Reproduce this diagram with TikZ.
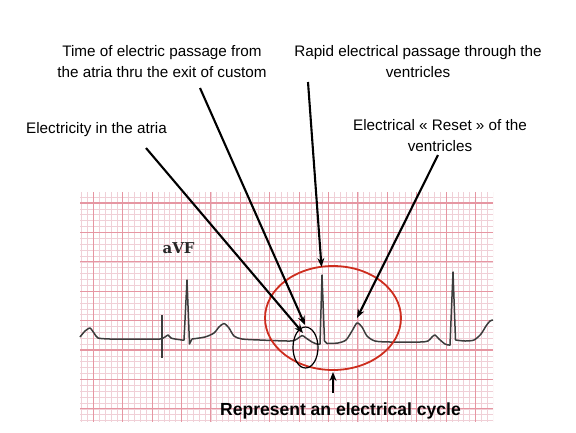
\documentclass[tikz,border=0pt]{standalone}
\usepackage{fontspec}
\setmainfont{Liberation Sans}
\newfontfamily\slabfnt{DejaVu Serif}
\usetikzlibrary{arrows.meta,shapes.geometric}
\definecolor{minorgrid}{RGB}{240,208,215}
\definecolor{majorgrid}{RGB}{230,150,162}
\definecolor{ecgtrace}{RGB}{60,60,60}
\definecolor{cyclered}{RGB}{205,45,30}
\tikzset{
  lbl/.style={font=\fontsize{15.3}{21}\selectfont, align=center, inner sep=0pt, anchor=base},
  pointer/.style={line width=2.1bp, -{Stealth[length=9bp,width=7bp]}},
  minorline/.style={draw=minorgrid, line width=0.6bp},
  majorline/.style={draw=majorgrid, line width=1.1bp},
}
\begin{document}
\begin{tikzpicture}[x=1bp,y=-1bp]
\useasboundingbox (0,0) rectangle (576,432);
\fill[white] (0,0) rectangle (576,432);
% ECG paper
\begin{scope}
\clip (80,192) rectangle (493,422);
\fill[white] (80,192) rectangle (493,422);
\foreach \i in {-3,...,70} {
  \draw[minorline] ({93.3+5.88*\i},192) -- ({93.3+5.88*\i},422);
}
\foreach \j in {-3,...,40} {
  \draw[minorline] (80,{203+5.88*\j}) -- (493,{203+5.88*\j});
}
\foreach \i in {0,...,13} {
  \draw[majorline] ({93.3+29.4*\i},192) -- ({93.3+29.4*\i},422);
}
\foreach \j in {0,...,7} {
  \draw[majorline] (80,{203+29.4*\j}) -- (493,{203+29.4*\j});
}
\end{scope}
% label aVF
\node[font=\slabfnt\bfseries\fontsize{15}{15}\selectfont, text=black!85, inner sep=0pt, anchor=base west] (avf) at (162.5,253) {aVF};
% calibration mark
\draw[ecgtrace, line width=1.6bp] (162,315) -- (162,358);
% ECG trace
\draw[ecgtrace, line width=1.5bp, line join=round] plot[smooth, tension=0.35] coordinates {
 (80,337) (85,331) (90,328) (94,333) (98,338) (110,339) (140,339) (160,339)
 (165,337) (168,335) (171,338) (175,339) (182,340)}
 -- (184,340) -- (187,280) -- (189.5,344) -- (192,339)
 plot[smooth, tension=0.45] coordinates {(192,339) (205,337) (214,333) (219,327) (224,323.5) (229,328) (234,336) (242,339) (260,340) (290,341) (297,339) (302,335.5) (306,338) (312,342) (318,344.5)}
 -- (320,344) -- (322,275) -- (324.5,341) -- (327,343.5)
 plot[smooth, tension=0.45] coordinates {(327,343.5) (338,343) (346,340) (352,331) (357,323) (362,327) (367,336) (375,341) (390,342) (420,342) (428,341) (432,337) (435,335) (439,339) (445,344) (449,345)}
 -- (450,345) -- (453,272) -- (455.5,340)
 plot[smooth, tension=0.45] coordinates {(455.5,340) (465,341) (474,340) (481,334) (486,326) (490,321) (493,320)};
% ellipses
\node[draw=cyclered, line width=1.8bp, ellipse, minimum width=136bp, minimum height=104bp, inner sep=0pt] (cycle) at (333,318) {};
\draw[black, line width=1.2bp] (305.5,347.5) ellipse [x radius=12.5, y radius=20.5];
% labels
\node[lbl] (lpr) at (162,77) {Time of electric passage from\\the atria thru the exit of custom};
\node[lbl] (lqrs) at (418,77) {Rapid electrical passage through the\\ventricles};
\node[lbl] (lp) at (96.5,133) {Electricity in the atria};
\node[lbl] (lt) at (440,151) {Electrical « Reset » of the\\ventricles};
\node[font=\fontsize{17.6}{20}\selectfont\bfseries, inner sep=0pt, anchor=base] (lcyc) at (340.5,415) {Represent an electrical cycle};
% arrow coordinates
\coordinate (sp) at (146,148);
\coordinate (tp) at (303,333);
\coordinate (spr) at (200,88);
\coordinate (tpr) at (305,325);
\coordinate (sqrs) at (308,82);
\coordinate (tqrs) at (321.5,267);
\coordinate (st) at (438,155);
\coordinate (tt) at (357,318);
\coordinate (scyc) at (333,393);
\coordinate (tcyc) at (333,372);
\draw[pointer] (sp) -- (tp);
\draw[pointer] (spr) -- (tpr);
\draw[pointer] (sqrs) -- (tqrs);
\draw[pointer] (st) -- (tt);
\draw[pointer] (scyc) -- (tcyc);
\end{tikzpicture}
\end{document}
